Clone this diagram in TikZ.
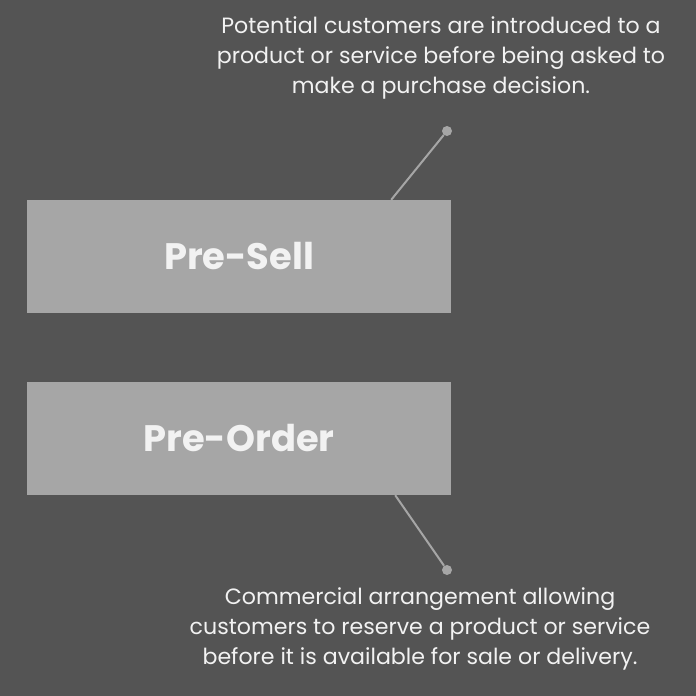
\documentclass[tikz,border=0pt]{standalone}
\usepackage{fontspec}
\setmainfont{Poppins}
\usetikzlibrary{positioning}
\definecolor{bgcol}{HTML}{545454}
\definecolor{boxcol}{HTML}{A6A6A6}
\definecolor{txtcol}{HTML}{F2F2F2}
\tikzset{
  box/.style={fill=boxcol, minimum width=424bp, minimum height=113bp, inner sep=0pt,
    text=txtcol, font=\fontsize{37}{40}\selectfont\bfseries},
  desc/.style={align=center, text=txtcol, inner sep=0pt, font=\fontsize{22.2}{30.5}\selectfont},
  dot/.style={circle, fill=boxcol, minimum size=10bp, inner sep=0pt},
  link/.style={boxcol, line width=2bp}
}

\begin{document}
\begin{tikzpicture}[x=1bp,y=-1bp]
\fill[bgcol] (0,0) rectangle (696,696);
% boxes
\node[box] (sell) at (239,256.5) {Pre-Sell};
\node[box] (order) at (239,438.5) {Pre-Order};
% descriptions
\node[desc] (selltxt) at (441,58) {Potential customers are introduced to a\\product or service before being asked to\\make a purchase decision.};
\node[desc] (ordertxt) at (420,629) {Commercial arrangement allowing\\customers to reserve a product or service\\before it is available for sale or delivery.};
% leaders
\node[dot] (selldot) at (447,131) {};
\node[dot] (orderdot) at (447,570) {};
\draw[link] ([xshift=-60bp]sell.north east) -- (selldot);
\draw[link] ([xshift=-56bp]order.south east) -- (orderdot);
\end{tikzpicture}
\end{document}
